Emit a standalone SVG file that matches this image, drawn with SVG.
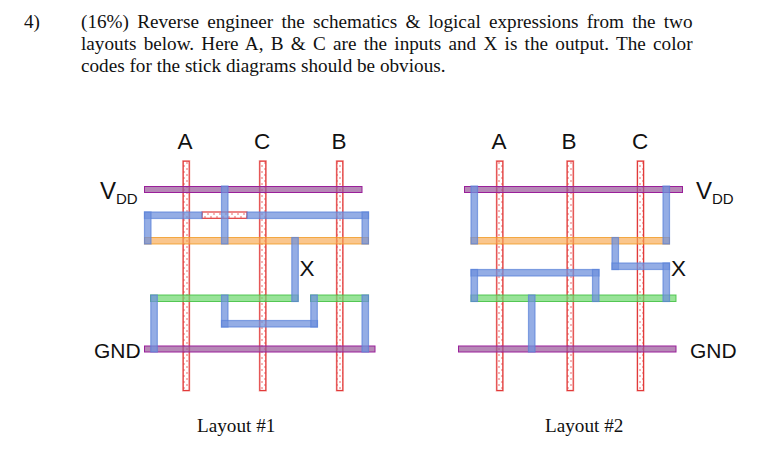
<svg xmlns="http://www.w3.org/2000/svg" width="767" height="449" viewBox="0 0 767 449">
<style>
.t{font-family:"Liberation Serif","Times New Roman",serif;font-size:19.2px;fill:#111}
.s{font-family:"Liberation Sans",Arial,sans-serif;fill:#111;font-size:21px}
.l{font-size:22.5px}
.v{font-size:24px}
.sub{font-size:15px}
.poly{fill:url(#dots);stroke:#e23a3a;stroke-width:1.2}
.polyh{fill:none;stroke:#f5b5b0;stroke-width:2.4;stroke-opacity:.7}
.m{fill:#7092dc;fill-opacity:.75;stroke:#5a82d8;stroke-opacity:.7;stroke-width:1.2}
.p{fill:#9a5a9a;fill-opacity:.72;stroke:#9a1f9a;stroke-width:1}
.o{fill:#f7a850;fill-opacity:.65;stroke:#f09a20;stroke-opacity:.8;stroke-width:1}
.g{fill:#70d870;fill-opacity:.72;stroke:#40c040;stroke-opacity:.85;stroke-width:1}
</style>
<defs>
<pattern id="dots" width="6" height="6" patternUnits="userSpaceOnUse">
<rect width="6" height="6" fill="#fff"/>
<rect x="0" y="0" width="2" height="2" fill="#f5b5b5"/>
<rect x="3" y="3" width="2" height="2" fill="#f5b5b5"/>
</pattern>
</defs>
<g id="question">
<text class="t" x="24" y="28">4)</text>
<text class="t" x="81" y="28" word-spacing="3.4">(16%) Reverse engineer the schematics &amp; logical expressions from the two</text>
<text class="t" x="81" y="50" word-spacing="2.45">layouts below. Here A, B &amp; C are the inputs and X is the output. The color</text>
<text class="t" x="81" y="72">codes for the stick diagrams should be obvious.</text>
</g>
<g id="layout1">
<g id="l1-poly">
<rect class="polyh" x="183.2" y="161.2" width="6" height="229.3"/><rect class="poly" x="183.2" y="161.2" width="6" height="229.3"/>
<rect class="polyh" x="259.8" y="161.2" width="6" height="229.3"/><rect class="poly" x="259.8" y="161.2" width="6" height="229.3"/>
<rect class="polyh" x="336.8" y="161.2" width="6" height="229.3"/><rect class="poly" x="336.8" y="161.2" width="6" height="229.3"/>
<rect class="poly" x="202" y="212" width="45" height="6.3"/>
</g>
<g id="l1-diffusion">
<rect class="o" x="144.5" y="237.5" width="224" height="6.5"/>
<rect class="g" x="150.5" y="295" width="147.5" height="6.5"/>
<rect class="g" x="310.5" y="295" width="58" height="6.5"/>
</g>
<g id="l1-rails">
<rect class="p" x="144.5" y="186.5" width="217.5" height="6"/>
<rect class="p" x="144.5" y="346" width="230.5" height="6"/>
</g>
<g id="l1-metal">
<rect class="m" x="144.5" y="212" width="57.5" height="6.5"/>
<rect class="m" x="247" y="212" width="121.5" height="6.5"/>
<rect class="m" x="144.5" y="212" width="6.5" height="32"/>
<rect class="m" x="221.5" y="186" width="6.5" height="58"/>
<rect class="m" x="362" y="212" width="6.5" height="32"/>
<rect class="m" x="291.8" y="237.5" width="6.5" height="64"/>
<rect class="m" x="150.8" y="295" width="6.5" height="57"/>
<rect class="m" x="221.5" y="295" width="6.5" height="32"/>
<rect class="m" x="221.5" y="320.5" width="96" height="6.5"/>
<rect class="m" x="310.8" y="295" width="6.5" height="32"/>
<rect class="m" x="362" y="295" width="6.5" height="57"/>
</g>
<g id="l1-labels">
<text class="s l" x="185" y="149" text-anchor="middle">A</text>
<text class="s l" x="262" y="149" text-anchor="middle">C</text>
<text class="s l" x="339" y="149" text-anchor="middle">B</text>
<text class="s" x="100" y="199"><tspan class="v">V</tspan><tspan class="sub" dy="5">DD</tspan></text>
<text class="s" x="94" y="358">GND</text>
<text class="s l" x="299.5" y="275.5">X</text>
<text class="t" x="197" y="432">Layout #1</text>
</g>
</g>
<g id="layout2">
<g id="l2-poly">
<rect class="polyh" x="496.8" y="161.2" width="6" height="229.3"/><rect class="poly" x="496.8" y="161.2" width="6" height="229.3"/>
<rect class="polyh" x="567.2" y="161.2" width="6" height="229.3"/><rect class="poly" x="567.2" y="161.2" width="6" height="229.3"/>
<rect class="polyh" x="637.5" y="161.2" width="6" height="229.3"/><rect class="poly" x="637.5" y="161.2" width="6" height="229.3"/>
</g>
<g id="l2-diffusion">
<rect class="o" x="471" y="237.5" width="198.5" height="6.5"/>
<rect class="g" x="471" y="295" width="205" height="6.5"/>
</g>
<g id="l2-rails">
<rect class="p" x="464.5" y="186.5" width="218" height="6"/>
<rect class="p" x="458.5" y="346" width="217.5" height="6"/>
</g>
<g id="l2-metal">
<rect class="m" x="471" y="186" width="6.5" height="58"/>
<rect class="m" x="663" y="186" width="6.5" height="58"/>
<rect class="m" x="612" y="237.5" width="6.5" height="32"/>
<rect class="m" x="612" y="263" width="57.5" height="6.5"/>
<rect class="m" x="663" y="263" width="6.5" height="38.5"/>
<rect class="m" x="471" y="269.5" width="128" height="6.5"/>
<rect class="m" x="471" y="269.5" width="6.5" height="32"/>
<rect class="m" x="592.5" y="269.5" width="6.5" height="32"/>
<rect class="m" x="528.5" y="295" width="6.5" height="57"/>
</g>
<g id="l2-labels">
<text class="s l" x="499" y="149" text-anchor="middle">A</text>
<text class="s l" x="569" y="149" text-anchor="middle">B</text>
<text class="s l" x="640" y="149" text-anchor="middle">C</text>
<text class="s" x="696" y="199"><tspan class="v">V</tspan><tspan class="sub" dy="5">DD</tspan></text>
<text class="s" x="690" y="358">GND</text>
<text class="s l" x="671" y="275.5">X</text>
<text class="t" x="545" y="432">Layout #2</text>
</g>
</g>
</svg>
